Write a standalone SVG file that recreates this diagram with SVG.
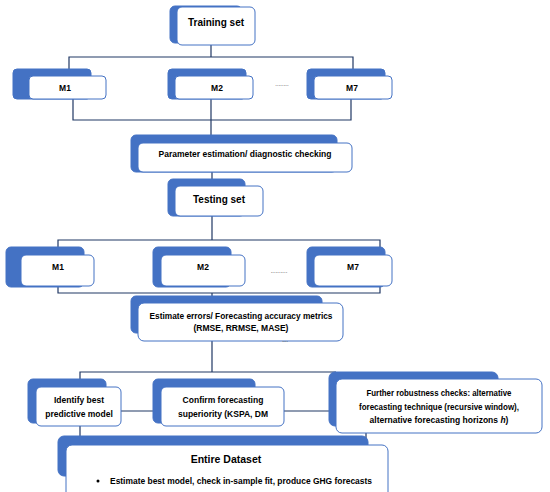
<svg xmlns="http://www.w3.org/2000/svg" width="550" height="492" viewBox="0 0 550 492">
<style>
.bk{fill:#4472C4;stroke:#4472C4;stroke-width:1}
.wb{fill:#ffffff;stroke:#4472C4;stroke-width:1}
.ln{fill:none;stroke:#203864;stroke-width:1.2}
text{font-family:"Liberation Sans","DejaVu Sans",sans-serif;font-weight:bold;fill:#000;text-anchor:middle}
.t10{font-size:10px}
.t8{font-size:8.5px}
.m{font-size:8.5px}
</style>
<rect width="550" height="492" fill="#ffffff"/>
<g id="connectors" class="ln">
<path d="M211 45V57M69 69V57H353V69"/>
<path d="M73 98V120H351V98M211 98V143"/>
<path d="M212 172V186M212 216V240M58 255V240H380V293H58V255M212 293V303"/>
<path d="M212 341V372M80 380V372H336M121 411H161M284 411H336"/>
<path d="M80 426V445M366 433V445"/>
</g>
<g id="training">
<rect class="bk" x="170" y="6" width="72" height="37" rx="5"/>
<rect class="wb" x="177" y="7" width="78" height="38" rx="5"/>
<text class="t10" x="216" y="26">Training set</text>
</g>
<g id="m1a">
<rect class="bk" x="13" y="69" width="78" height="30" rx="4"/>
<rect class="wb" x="29" y="76" width="77" height="23" rx="4"/>
<text class="m" x="65" y="91">M1</text>
</g>
<g id="m2a">
<rect class="bk" x="168" y="69" width="78" height="30" rx="4"/>
<rect class="wb" x="175" y="76" width="78" height="23" rx="4"/>
<text class="m" x="217" y="91">M2</text>
</g>
<text x="282" y="86" style="font-size:6px;font-weight:normal">........</text>
<g id="m7a">
<rect class="bk" x="307" y="69" width="78" height="30" rx="4"/>
<rect class="wb" x="314" y="76" width="78" height="23" rx="4"/>
<text class="m" x="352" y="91">M7</text>
</g>
<g id="param">
<rect class="bk" x="131" y="135" width="206" height="37" rx="5"/>
<rect class="wb" x="138" y="143" width="214" height="29" rx="5"/>
<text class="t8" x="245" y="157" textLength="173" lengthAdjust="spacingAndGlyphs">Parameter estimation/ diagnostic checking</text>
</g>
<g id="testing">
<rect class="bk" x="168" y="179" width="77" height="37" rx="5"/>
<rect class="wb" x="175" y="186" width="88" height="30" rx="5"/>
<text class="t10" x="219" y="203">Testing set</text>
</g>
<g id="m1b">
<rect class="bk" x="6" y="247" width="78" height="40" rx="5"/>
<rect class="wb" x="21" y="255" width="73" height="31" rx="5"/>
<text class="m" x="58" y="270">M1</text>
</g>
<g id="m2b">
<rect class="bk" x="153" y="247" width="78" height="40" rx="5"/>
<rect class="wb" x="161" y="255" width="84" height="31" rx="5"/>
<text class="m" x="203" y="270">M2</text>
</g>
<text x="279" y="273" style="font-size:6px;font-weight:normal">..........</text>
<g id="m7b">
<rect class="bk" x="307" y="247" width="78" height="40" rx="5"/>
<rect class="wb" x="314" y="255" width="78" height="31" rx="5"/>
<text class="m" x="353" y="270">M7</text>
</g>
<g id="estimate">
<rect class="bk" x="131" y="296" width="191" height="37" rx="5"/>
<rect class="wb" x="138" y="303" width="205" height="38" rx="6"/>
<text class="t8" x="241" y="319" textLength="183" lengthAdjust="spacingAndGlyphs">Estimate errors/ Forecasting accuracy metrics</text>
<text class="t8" x="241" y="331">(RMSE, RRMSE, MASE)</text>
</g>
<text x="285" y="342" style="font-size:5px;font-weight:normal">....</text>
<g id="identify">
<rect class="bk" x="28" y="379" width="78" height="44" rx="5"/>
<rect class="wb" x="36" y="387" width="85" height="39" rx="5"/>
<text class="t8" x="79" y="403">Identify best</text>
<text class="t8" x="79" y="417">predictive model</text>
</g>
<g id="confirm">
<rect class="bk" x="153" y="379" width="102" height="44" rx="5"/>
<rect class="wb" x="161" y="387" width="123" height="39" rx="5"/>
<text class="t8" x="223" y="403">Confirm forecasting</text>
<text class="t8" x="223" y="417">superiority (KSPA, DM</text>
</g>
<g id="robust">
<rect class="bk" x="329" y="372" width="169" height="54" rx="6"/>
<rect class="wb" x="336" y="379" width="206" height="54" rx="6"/>
<text class="t8" x="439" y="396" textLength="145" lengthAdjust="spacingAndGlyphs">Further robustness checks: alternative</text>
<text class="t8" x="439" y="410" textLength="160" lengthAdjust="spacingAndGlyphs">forecasting technique (recursive window),</text>
<text class="t8" x="439" y="423">alternative forecasting horizons <tspan font-style="italic">h</tspan>)</text>
</g>
<g id="entire">
<rect class="bk" x="58" y="436" width="310" height="40" rx="6"/>
<rect class="wb" x="66" y="445" width="322" height="60" rx="6"/>
<text class="t10" x="226" y="463" style="font-size:10.5px">Entire Dataset</text>
<circle cx="98" cy="481" r="1.5" fill="#000"/>
<text class="t8" x="110" y="484" style="text-anchor:start" textLength="262" lengthAdjust="spacingAndGlyphs">Estimate best model, check in-sample fit, produce GHG forecasts</text>
</g>
</svg>
